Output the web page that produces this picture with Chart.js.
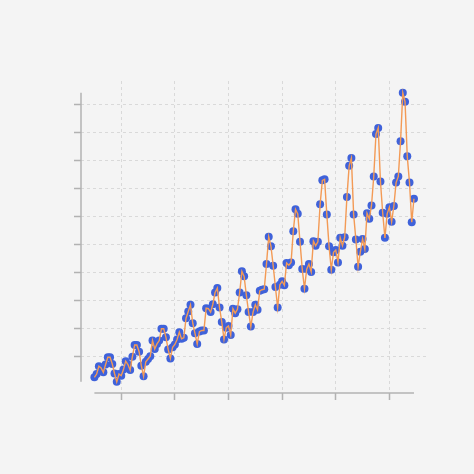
<!DOCTYPE html>
<html>
<head>
<meta charset="utf-8">
<script src="https://cdn.jsdelivr.net/npm/chart.js@4/dist/chart.umd.min.js"></script>
<style>
  html, body { margin: 0; padding: 0; background: #f4f4f4; }
  canvas { display: block; }
</style>
</head>
<body>
<canvas id="chart" width="474" height="474"></canvas>
<script>
// monthly passengers, 1949 - 1960
var years = [1949, 1950, 1951, 1952, 1953, 1954, 1955, 1956, 1957, 1958, 1959, 1960];
var passengers = [
  112, 118, 132, 129, 121, 135, 148, 148, 136, 119, 104, 118,
  115, 126, 141, 135, 125, 149, 170, 170, 158, 133, 114, 140,
  145, 150, 178, 163, 172, 178, 199, 199, 184, 162, 146, 166,
  171, 180, 193, 181, 183, 218, 230, 242, 209, 191, 172, 194,
  196, 196, 236, 235, 229, 243, 264, 272, 237, 211, 180, 201,
  204, 188, 235, 227, 234, 264, 302, 293, 259, 229, 203, 229,
  242, 233, 267, 269, 270, 315, 364, 347, 312, 274, 237, 278,
  284, 277, 317, 313, 318, 374, 413, 405, 355, 306, 271, 306,
  315, 301, 356, 348, 355, 422, 465, 467, 404, 347, 305, 336,
  340, 318, 362, 348, 363, 435, 491, 505, 404, 359, 310, 337,
  360, 342, 406, 396, 420, 472, 548, 559, 463, 407, 362, 405,
  417, 391, 419, 461, 472, 535, 622, 606, 508, 461, 390, 432
];
var xTicks = [1950, 1952, 1954, 1956, 1958, 1960];
var yTicks = [150, 200, 250, 300, 350, 400, 450, 500, 550, 600];

var points = passengers.map(function (v, i) {
  return { x: years[0] + i / 12, y: v };
});

var xMin = points[0].x, xMax = points[points.length - 1].x;
var yMin = Math.min.apply(null, passengers), yMax = Math.max.apply(null, passengers);

var gridStyle = {
  color: '#d9d9d9',
  lineWidth: 1,
  drawTicks: true,
  tickLength: 7,
  tickColor: '#b2b2b2',
  tickWidth: 1.5,
  tickBorderDash: []
};
// in v4 the dash of the grid lines lives under border
var borderStyle = { display: false, dash: [3, 3] };

// trimmed spines, only over the data range
var spines = {
  id: 'spines',
  afterDraw: function (chart) {
    var ctx = chart.ctx;
    var xs = chart.scales.x, ys = chart.scales.y;
    var area = chart.chartArea;
    ctx.save();
    ctx.strokeStyle = '#b2b2b2';
    ctx.lineWidth = 1.5;
    ctx.beginPath();
    ctx.moveTo(area.left, ys.getPixelForValue(yMin));
    ctx.lineTo(area.left, ys.getPixelForValue(yMax));
    ctx.moveTo(xs.getPixelForValue(xMin), area.bottom);
    ctx.lineTo(xs.getPixelForValue(xMax), area.bottom);
    ctx.stroke();
    ctx.restore();
  }
};

new Chart(document.getElementById('chart'), {
  type: 'line',
  data: {
    datasets: [{
      data: points,
      borderColor: '#f39a55',
      borderWidth: 1.4,
      pointRadius: 0,
      tension: 0,
      order: 0
    }, {
      data: points,
      showLine: false,
      pointRadius: 4,
      pointBackgroundColor: '#3f62da',
      pointBorderWidth: 0,
      order: 1
    }]
  },
  options: {
    responsive: false,
    animation: false,
    devicePixelRatio: 1,
    layout: { padding: { left: 74, right: 46, top: 81, bottom: 74 } },
    plugins: { legend: { display: false }, tooltip: { enabled: false } },
    scales: {
      x: {
        type: 'linear',
        min: 1948.5,
        max: 1961.44,
        afterBuildTicks: function (axis) { axis.ticks = xTicks.map(function (v) { return { value: v }; }); },
        ticks: { display: false },
        grid: gridStyle,
        border: borderStyle
      },
      y: {
        type: 'linear',
        min: 84,
        max: 643,
        afterBuildTicks: function (axis) { axis.ticks = yTicks.map(function (v) { return { value: v }; }); },
        ticks: { display: false },
        grid: gridStyle,
        border: borderStyle
      }
    }
  },
  plugins: [spines]
});
</script>
</body>
</html>
